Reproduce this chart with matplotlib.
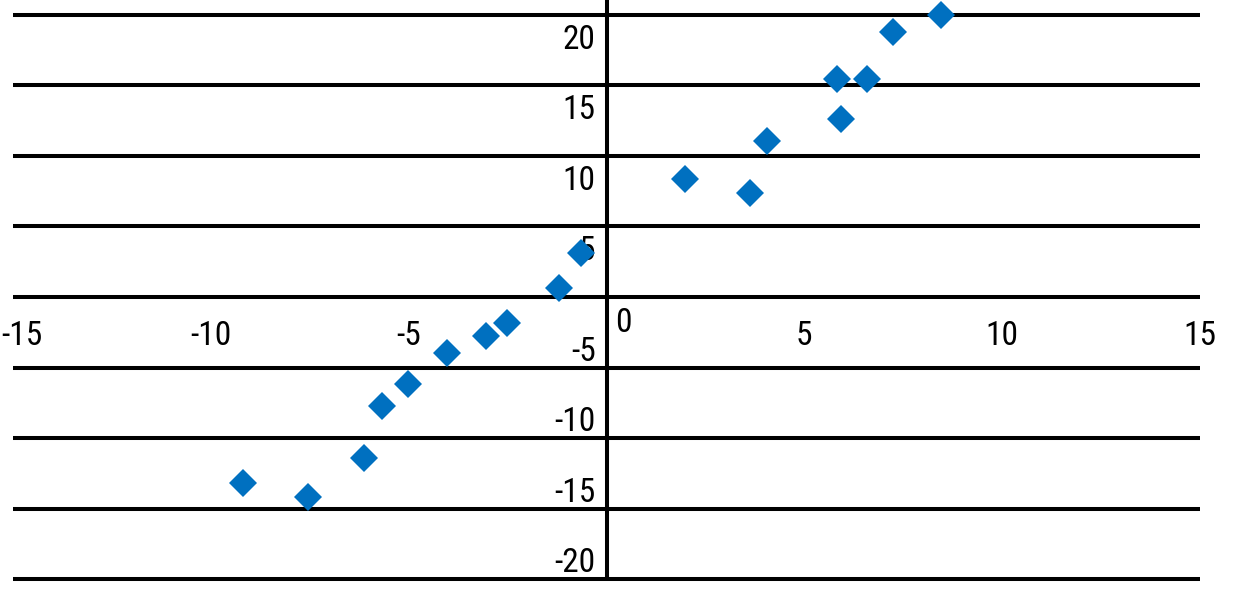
import matplotlib
matplotlib.use("Agg")
import matplotlib.pyplot as plt
from matplotlib import font_manager

# datos
x_vals = [-9.19, -7.54, -6.13, -5.67, -5.02, -4.03, -3.05, -2.52, -1.20, -0.65,
          1.98, 3.63, 4.06, 5.83, 6.58, 5.93, 7.24, 8.45]
y_vals = [-13.19, -14.18, -11.42, -7.73, -6.17, -3.97, -2.77, -1.84, 0.64, 3.12,
          8.37, 7.38, 11.06, 15.46, 15.46, 12.62, 18.79, 20.0]

x_ticks = [-15, -10, -5, 5, 10, 15]
y_ticks = [20, 15, 10, 5, -5, -10, -15, -20]
grid_y = [20, 15, 10, 5, 0, -5, -10, -15, -20]

fs = 24

# buscar una fuente estrecha (narrow / condensed) entre las instaladas
def pick_font():
    best = None
    for f in font_manager.fontManager.ttflist:
        name = (f.name + " " + f.fname).lower()
        if f.style != "normal" or f.weight not in (400, "normal", "regular"):
            continue
        if "narrow" in name or "condensed" in name or f.stretch in ("condensed", "semi-condensed"):
            if "bold" in f.fname.lower() or "oblique" in f.fname.lower() or "italic" in f.fname.lower():
                continue
            score = 0
            if "liberation" in name:
                score = 3
            elif "roboto" in name or "open" in name:
                score = 2
            elif "dejavu" in name:
                score = 1
            if best is None or score > best[0]:
                best = (score, f.fname)
    if best:
        return font_manager.FontProperties(fname=best[1], size=fs)
    return font_manager.FontProperties(family="DejaVu Sans", size=fs)

fp = pick_font()

fig = plt.figure(figsize=(12.34, 5.95), dpi=100)
ax = fig.add_axes([0, 0, 1, 1])
ax.set_xlim(-15.33, 15.86)
ax.set_ylim(-21.1, 21.03)
ax.axis("off")

# lineas horizontales y eje vertical
ax.hlines(grid_y, -15, 15, colors="black", linewidth=2.9, zorder=1)
ax.vlines(0, -20, 21.5, colors="black", linewidth=2.9, zorder=1)

ax.plot(x_vals, y_vals, linestyle="none", marker="D", markersize=14.3,
        markeredgewidth=0, color="#0070C0", zorder=3)

# etiquetas eje y
for v in y_ticks:
    dy = -34 if v > 0 else 7
    ax.annotate(str(v), xy=(0, v), xytext=(-11, dy), textcoords="offset pixels",
                ha="right", va="baseline", fontproperties=fp, zorder=2)

# etiquetas eje x
for v in x_ticks:
    if v == -15:
        ax.annotate(str(v), xy=(0, 0), xycoords=("axes fraction", "data"),
                    xytext=(1, -48), textcoords="offset pixels",
                    ha="left", va="baseline", fontproperties=fp, zorder=2)
        continue
    ax.annotate(str(v), xy=(v, 0), xytext=(0, -48), textcoords="offset pixels",
                ha="center", va="baseline", fontproperties=fp, zorder=2)
ax.annotate("0", xy=(0, 0), xytext=(9, -35), textcoords="offset pixels",
            ha="left", va="baseline", fontproperties=fp, zorder=2)

fig.savefig("out.png", dpi=100)
